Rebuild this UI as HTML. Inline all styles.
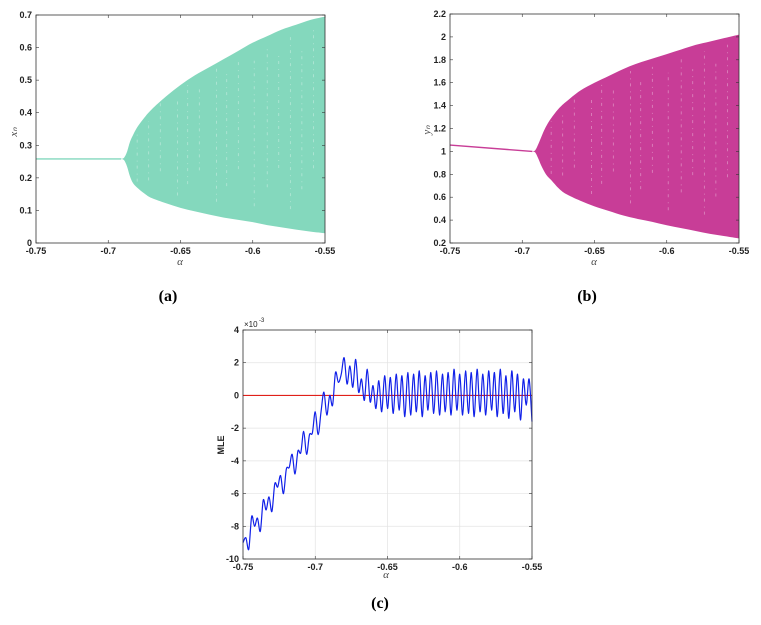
<!DOCTYPE html>
<html><head><meta charset="utf-8"><style>
html,body{margin:0;padding:0;background:#fff;width:761px;height:625px;overflow:hidden}
svg{display:block}
text{font-family:"Liberation Sans",sans-serif;font-weight:bold;font-size:9px;fill:#222}
.cap{font-family:"Liberation Serif",serif;font-size:16px;fill:#000}
.it{font-family:"Liberation Serif",serif;font-style:italic;font-weight:normal;font-size:11px;fill:#444}
</style></head><body>
<svg id="s" width="761" height="625" viewBox="0 0 761 625">
<text class="cap" x="168" y="301" text-anchor="middle">(a)</text>
<text class="cap" x="587" y="301" text-anchor="middle">(b)</text>
<text class="cap" x="380" y="608" text-anchor="middle">(c)</text>
</svg>
<script>
// Panel (a) data
const aAlpha=[-0.691,-0.689,-0.687,-0.685,-0.683,-0.68,-0.675,-0.67,-0.66,-0.65,-0.64,-0.63,-0.62,-0.61,-0.6,-0.59,-0.58,-0.57,-0.56,-0.55];
const aUpper=[0.258,0.262,0.28,0.31,0.33,0.355,0.385,0.41,0.45,0.485,0.515,0.54,0.565,0.59,0.615,0.635,0.655,0.67,0.685,0.695];
const aLower=[0.258,0.254,0.235,0.205,0.185,0.17,0.152,0.138,0.122,0.108,0.097,0.087,0.078,0.071,0.064,0.055,0.048,0.041,0.035,0.03];
const aFixed=[0.258,0.258];
const aYTicks=[0,0.1,0.2,0.3,0.4,0.5,0.6,0.7];
// Panel (b) data
const bAlpha=[-0.693,-0.691,-0.689,-0.687,-0.685,-0.683,-0.68,-0.675,-0.67,-0.66,-0.65,-0.64,-0.63,-0.62,-0.61,-0.6,-0.59,-0.58,-0.57,-0.56,-0.55];
const bUpper=[1.0,1.01,1.06,1.12,1.18,1.23,1.29,1.37,1.43,1.53,1.6,1.66,1.72,1.77,1.81,1.85,1.89,1.93,1.96,1.99,2.02];
const bLower=[1.0,0.99,0.94,0.88,0.83,0.79,0.75,0.68,0.63,0.57,0.52,0.48,0.44,0.41,0.385,0.355,0.33,0.305,0.28,0.26,0.24];
const bFixed=[1.055,1.0];
const bYTicks=[0.2,0.4,0.6,0.8,1,1.2,1.4,1.6,1.8,2,2.2];
// white gap lines (periodic windows)
const gapAlpha=[-0.68,-0.672,-0.664,-0.652,-0.645,-0.637,-0.625,-0.618,-0.61,-0.599,-0.59,-0.582,-0.574,-0.566,-0.558];
// Panel (c) data
const cValues=[-9.0,-8.7,-9.4,-7.4,-8.0,-7.5,-8.3,-6.4,-7.0,-6.2,-7.1,-5.4,-5.6,-4.9,-6.0,-4.5,-4.4,-3.6,-4.8,-3.4,-3.5,-2.2,-3.6,-2.4,-2.3,-1.0,-2.4,-1.0,0.2,-1.2,0.0,-0.6,1.4,0.8,1.3,2.3,0.7,1.8,0.5,2.2,0.2,1.0,-0.3,1.6,-0.4,0.6,-0.8,0.9,-1.0,1.2,-0.8,1.1,-1.1,1.3,-0.9,1.2,-1.3,1.4,-1.2,1.3,-1.0,1.5,-1.3,1.2,-0.9,1.4,-1.1,1.5,-1.2,1.3,-1.0,1.4,-1.2,1.6,-0.9,1.3,-1.2,1.5,-1.1,1.4,-1.3,1.6,-1.0,1.3,-1.2,1.5,-0.9,1.4,-1.3,1.6,-1.1,1.2,-1.4,1.5,-1.0,1.3,-1.5,1.0,-0.6,1.0,-1.6];
const cYTicks=[-10,-8,-6,-4,-2,0,2,4];
const xTicks=[-0.75,-0.7,-0.65,-0.6,-0.55];

const NS='http://www.w3.org/2000/svg';
const svg=document.getElementById('s');
function mk(tag,attrs,parent){const e=document.createElementNS(NS,tag);for(const k in attrs)e.setAttribute(k,attrs[k]);(parent||svg).appendChild(e);return e;}
function smooth(pts,start){
  let d=start?('M'+pts[0][0]+','+pts[0][1]):('L'+pts[0][0]+','+pts[0][1]);
  for(let i=0;i<pts.length-1;i++){
    const p0=pts[Math.max(i-1,0)],p1=pts[i],p2=pts[i+1],p3=pts[Math.min(i+2,pts.length-1)];
    const c1=[p1[0]+(p2[0]-p0[0])/6,p1[1]+(p2[1]-p0[1])/6],c2=[p2[0]-(p3[0]-p1[0])/6,p2[1]-(p3[1]-p1[1])/6];
    d+='C'+c1+' '+c2+' '+p2;
  }
  return d;
}
function axes(x0,x1,y0,y1,ymin,ymax,yt,grid,name){
  const g=mk('g',{});
  
  
  const sx=v=>x0+(v+0.75)/0.2*(x1-x0);
  const sy=v=>y1-(v-ymin)/(ymax-ymin)*(y1-y0);
  return {g,sx,sy,x0,x1,y0,y1,yt,grid};
}
function frame(A){
  const {g,sx,sy,x0,x1,y0,y1,yt,grid}=A;
  xTicks.forEach(v=>{
    const x=sx(v);
    if(grid){const l=mk('line',{x1:x,x2:x,y1:y0,y2:y1,stroke:'#e3e3e3','stroke-width':0.7},g);}
    mk('line',{x1:x,x2:x,y1:y1,y2:y1-3,stroke:'#333','stroke-width':0.6},g);
    mk('line',{x1:x,x2:x,y1:y0,y2:y0+3,stroke:'#333','stroke-width':0.6},g);
    const t=mk('text',{x:x,y:y1+11,'text-anchor':'middle'},g);
    t.textContent=v.toString();
    
    
  });
  yt.forEach(v=>{
    const y=sy(v);
    if(grid){const l=mk('line',{x1:x0,x2:x1,y1:y,y2:y,stroke:'#e3e3e3','stroke-width':0.7},g);}
    mk('line',{x1:x0,x2:x0+3,y1:y,y2:y,stroke:'#333','stroke-width':0.6},g);
    mk('line',{x1:x1,x2:x1-3,y1:y,y2:y,stroke:'#333','stroke-width':0.6},g);
    const t=mk('text',{x:x0-4,y:y+3,'text-anchor':'end'},g);t.textContent=String(v);
    
    
  });
}
function box(A){const b=mk('rect',{x:A.x0,y:A.y0,width:A.x1-A.x0,height:A.y1-A.y0,fill:'none',stroke:'#333','stroke-width':0.8},A.g);}
function bif(A,al,up,lo,fixed,color,name){
  const {g,sx,sy}=A;
  const fl=mk('line',{x1:sx(-0.75),x2:sx(al[0]),y1:sy(fixed[0]),y2:sy(fixed[1]),stroke:color,'stroke-width':1.4},g);
  
  
  const U=al.map((a,i)=>[sx(a),sy(up[i])]);
  const L=al.map((a,i)=>[sx(a),sy(lo[i])]).reverse();
  const p=mk('path',{d:smooth(U,true)+smooth(L,false)+'Z',fill:color},g);
  
  
  gapAlpha.forEach((a,k)=>{
    let i=al.findIndex(v=>v>=a);if(i<0)return;
    const u=up[i],l=lo[i],h=u-l;
    const w=mk('line',{x1:sx(a),x2:sx(a),y1:sy(l+h*(0.1+0.1*(k%3))),y2:sy(u-h*(0.05+0.08*(k%2))),stroke:'#fff','stroke-width':0.7,'stroke-dasharray':'3 4 1 5','opacity':0.45},g);
    
    
  });
}
// Panel a
const A=axes(36,325,15,243,0,0.7,aYTicks,false,'panel-a');
bif(A,aAlpha,aUpper,aLower,aFixed,'#84d8bd','panel-a');
frame(A);box(A);
let t=mk('text',{class:'it',x:180,y:265,'text-anchor':'middle'},A.g);t.textContent='α';
t=mk('text',{class:'it',x:17,y:132,'text-anchor':'middle',transform:'rotate(-90 17 132)'},A.g);t.textContent='xₙ';
// Panel b
const B=axes(450,739,14,243,0.2,2.2,bYTicks,false,'panel-b');
bif(B,bAlpha,bUpper,bLower,bFixed,'#c83d97','panel-b');
frame(B);box(B);
t=mk('text',{class:'it',x:594,y:265,'text-anchor':'middle'},B.g);t.textContent='α';
t=mk('text',{class:'it',x:430,y:130,'text-anchor':'middle',transform:'rotate(-90 430 130)'},B.g);t.textContent='yₙ';
// Panel c
const C=axes(243,532,330,559,-10,4,cYTicks,true,'panel-c');
frame(C);
const zl=mk('line',{x1:C.sx(-0.75),x2:C.sx(-0.55),y1:C.sy(0),y2:C.sy(0),stroke:'#e0201a','stroke-width':1.1},C.g);


const step=0.2/(cValues.length-1);
const pl=mk('path',{d:smooth(cValues.map((v,i)=>[C.sx(-0.75+i*step),C.sy(v)]),true),fill:'none',stroke:'#1020e8','stroke-width':1.2,'stroke-linejoin':'round'},C.g);


box(C);
t=mk('text',{x:244,y:327,style:'font-weight:normal;font-size:8px'},C.g);t.textContent='×10';
t=mk('text',{x:259,y:322,style:'font-weight:normal;font-size:6px'},C.g);t.textContent='-3';
t=mk('text',{class:'it',x:386,y:578,'text-anchor':'middle'},C.g);t.textContent='α';
t=mk('text',{x:224,y:445,'text-anchor':'middle',transform:'rotate(-90 224 445)'},C.g);t.textContent='MLE';
</script>
</body></html>
